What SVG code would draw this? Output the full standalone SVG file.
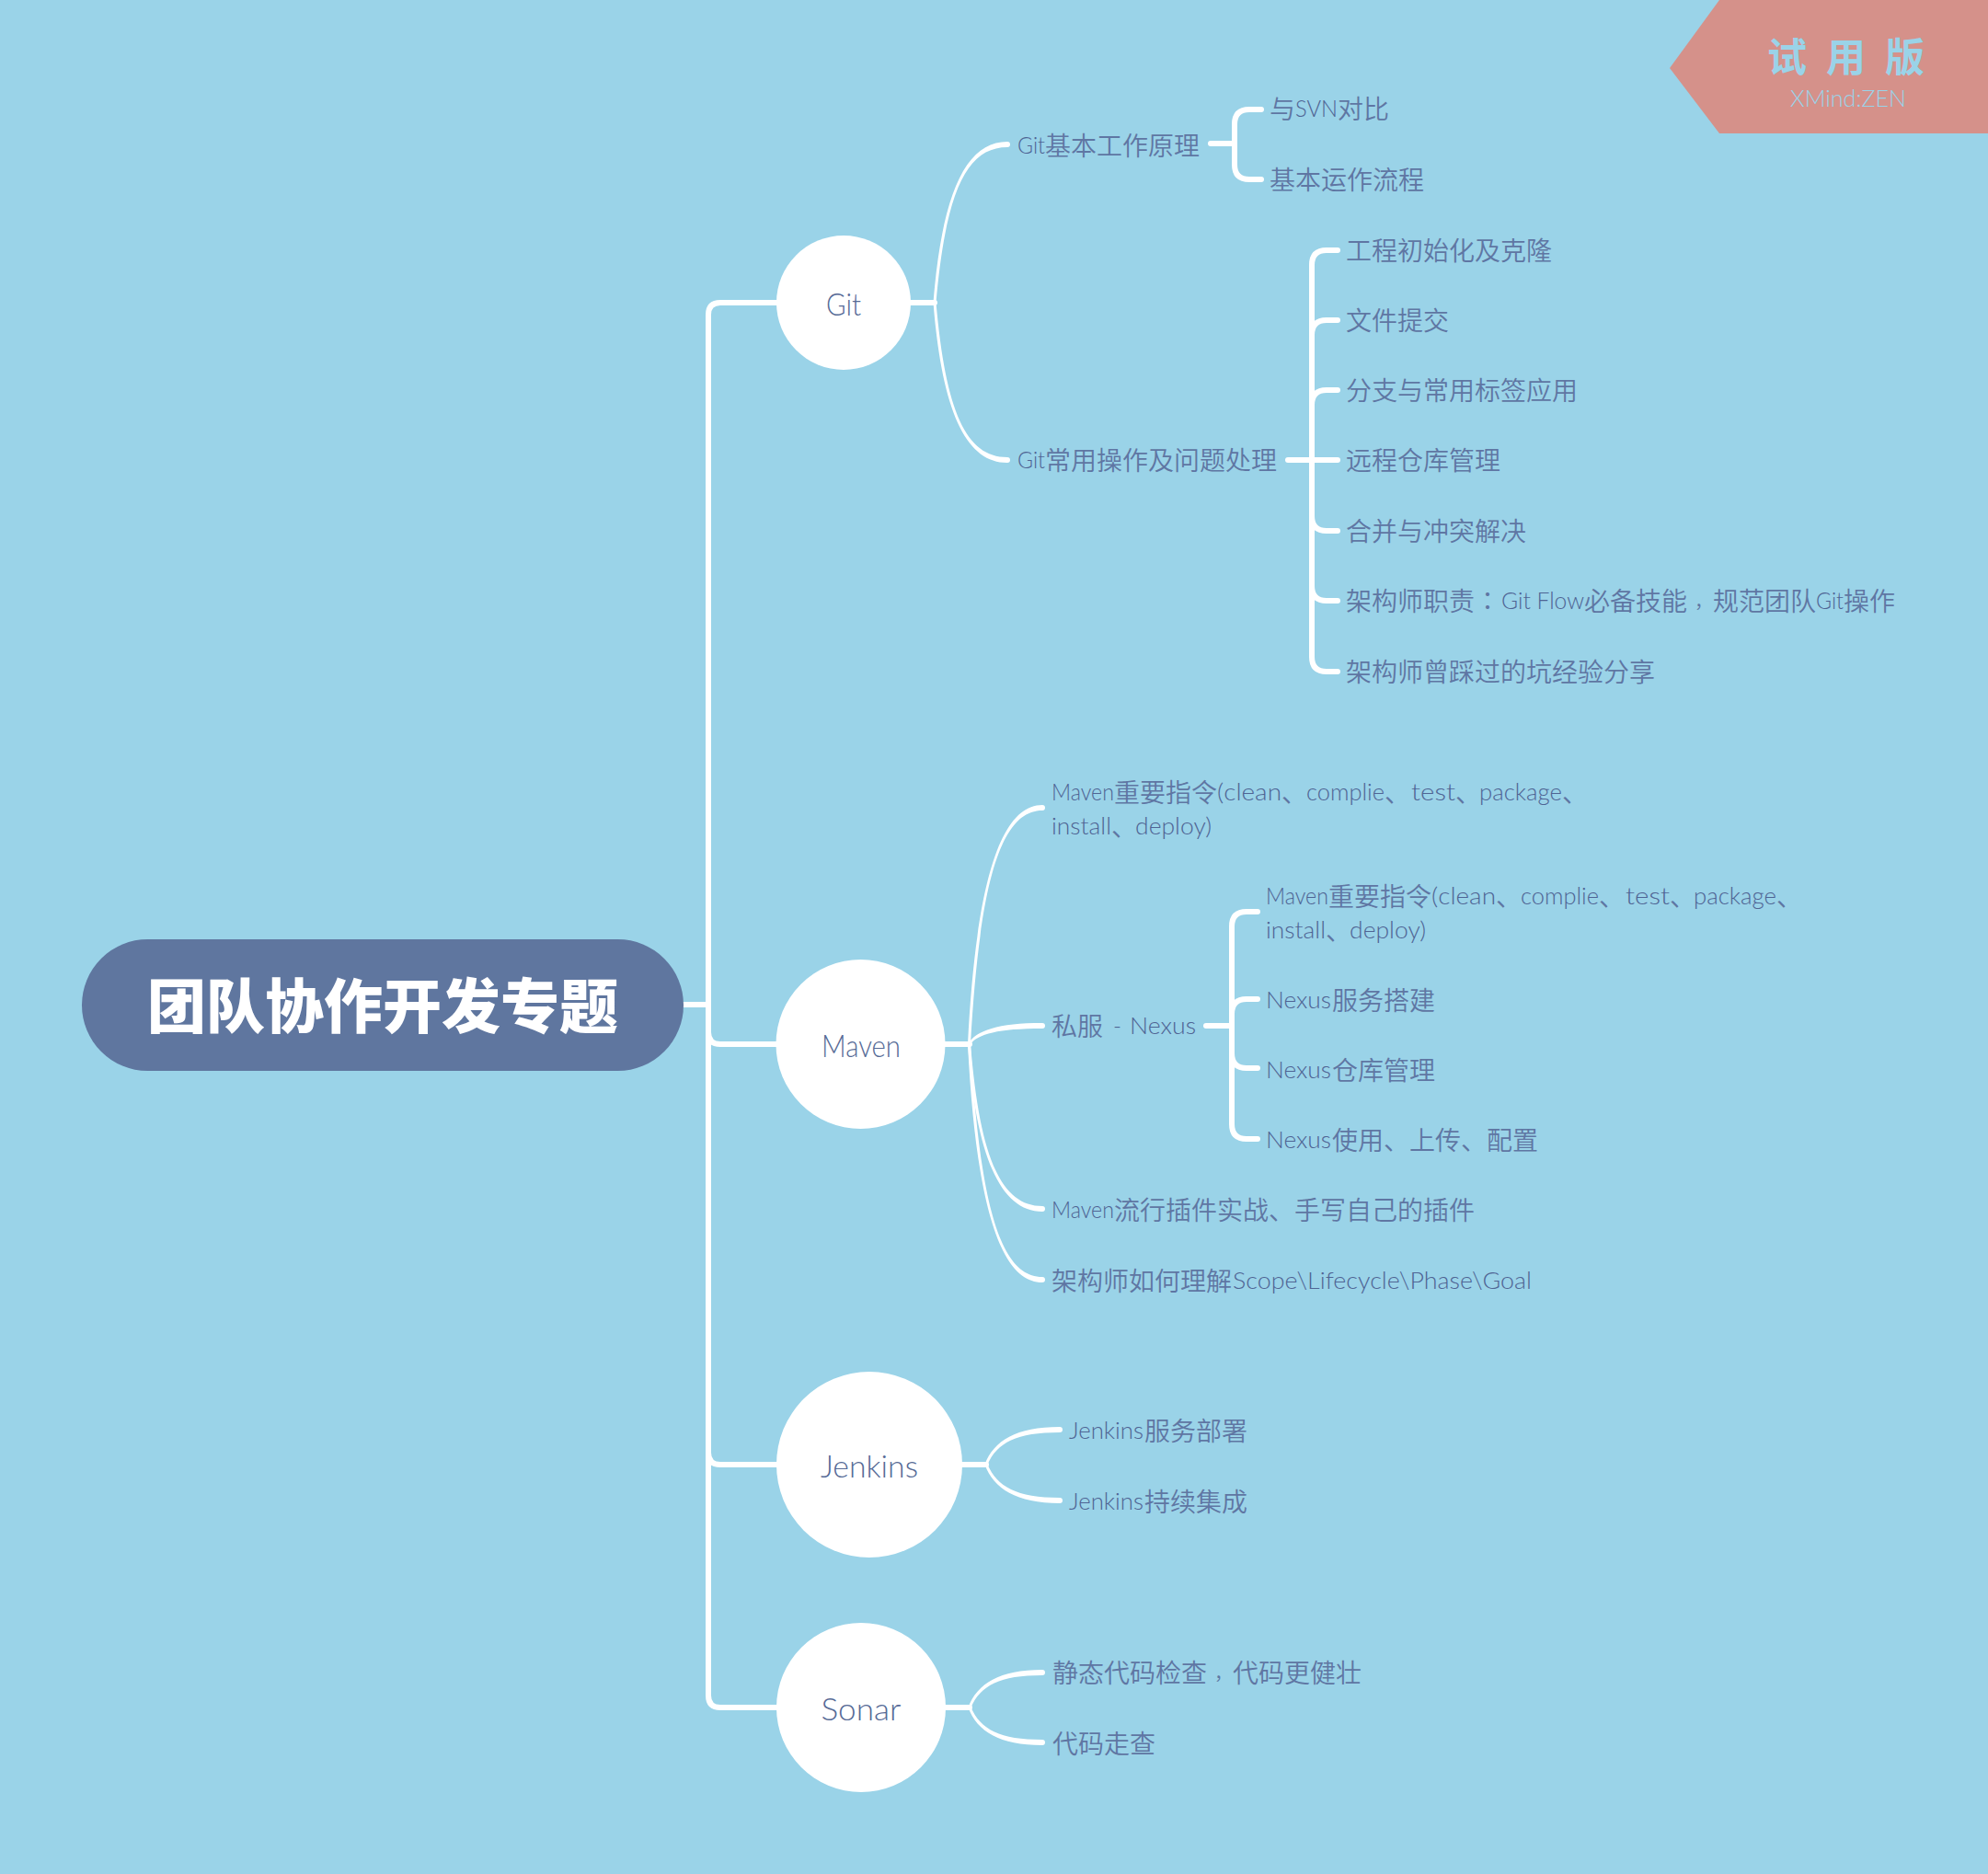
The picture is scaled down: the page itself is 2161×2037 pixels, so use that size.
<svg xmlns="http://www.w3.org/2000/svg" width="2161" height="2037" viewBox="0 0 2161 2037">
<style>
.ln{fill:none;stroke:#fff;stroke-width:6;stroke-linecap:round}
.tp{fill:#fff;stroke:none}
.l{font-family:"Noto Sans CJK SC","Liberation Sans",sans-serif;font-weight:350;font-size:28px;fill:#5F76A3;dominant-baseline:central}
.h{font-family:"Lato","Open Sans",sans-serif;font-weight:300;font-size:25px;fill:#4F6494}
.p{font-family:"Noto Sans CJK TC","Noto Sans CJK SC",sans-serif}
.c{font-size:20px}
.n{font-family:"Lato","Open Sans",sans-serif;font-weight:300;font-size:33px;fill:#566A96;dominant-baseline:central;text-anchor:middle}
</style>
<rect width="2161" height="2037" fill="#9AD3E8"/>
<g id="connectors">
<path class="ln" d="M743,1092H770"/>
<path class="ln" d="M844,329H783Q770,329 770,342V1843Q770,1856 783,1856H844"/>
<path class="ln" d="M770,1122Q770,1135 783,1135H844"/>
<path class="ln" d="M770,1579Q770,1592 783,1592H844"/>
<path class="ln" d="M990,329H1016"/>
<path class="tp" d="M1014.500,329C1024,210 1050,154 1095,154A3,3 0 0 1 1095,160C1050,160 1028,210 1017.500,329Z"/>
<path class="tp" d="M1014.500,329C1024,447 1050,503 1095,503A3,3 0 0 0 1095,497C1050,497 1028,447 1017.500,329Z"/>
<path class="ln" d="M1316,156H1342"/>
<path class="ln" d="M1371,119H1358Q1342,119 1342,135V179Q1342,195 1358,195H1371"/>
<path class="ln" d="M1400,500H1454"/>
<path class="ln" d="M1454,272H1442Q1426,272 1426,288V714Q1426,730 1442,730H1454"/>
<path class="ln" d="M1426,364Q1426,348 1442,348H1454"/>
<path class="ln" d="M1426,440Q1426,424 1442,424H1454"/>
<path class="ln" d="M1426,561Q1426,577 1442,577H1454"/>
<path class="ln" d="M1426,637Q1426,653 1442,653H1454"/>
<path class="ln" d="M1027,1135H1054"/>
<path class="tp" d="M1052,1135C1061,958 1088,875 1133,875A3,3 0 0 1 1133,881C1088,881 1065,958 1055,1135Z"/>
<path class="tp" d="M1052,1135C1061,1120 1085,1112 1133,1112A3,3 0 0 1 1133,1118C1085,1118 1063,1124 1055,1135Z"/>
<path class="tp" d="M1052,1135C1061,1258 1088,1317 1133,1317A3,3 0 0 0 1133,1311C1088,1311 1065,1258 1055,1135Z"/>
<path class="tp" d="M1052,1135C1061,1312 1088,1394 1133,1394A3,3 0 0 0 1133,1388C1088,1388 1065,1312 1055,1135Z"/>
<path class="ln" d="M1311,1115H1339"/>
<path class="ln" d="M1367,991H1355Q1339,991 1339,1007V1222Q1339,1238 1355,1238H1367"/>
<path class="ln" d="M1339,1102Q1339,1086 1355,1086H1367"/>
<path class="ln" d="M1339,1145Q1339,1161 1355,1161H1367"/>
<path class="ln" d="M1046,1592H1072"/>
<path class="tp" d="M1070.500,1592C1080,1566 1105,1551 1152,1551A3,3 0 0 1 1152,1557C1105,1557 1084,1568 1073.500,1592Z"/>
<path class="tp" d="M1070.500,1592C1080,1618 1105,1634 1152,1634A3,3 0 0 0 1152,1628C1105,1628 1084,1616 1073.500,1592Z"/>
<path class="ln" d="M1028,1856H1054"/>
<path class="tp" d="M1052.500,1856C1062,1830 1087,1815 1133,1815A3,3 0 0 1 1133,1821C1087,1821 1066,1832 1055.500,1856Z"/>
<path class="tp" d="M1052.500,1856C1062,1882 1087,1897 1133,1897A3,3 0 0 0 1133,1891C1087,1891 1066,1880 1055.500,1856Z"/>
</g>
<g id="root">
<rect x="89" y="1021" width="654" height="143" rx="71.500" fill="#5F769F"/>
<text x="416" y="1089" text-anchor="middle" dominant-baseline="central" style="font-family:'Noto Sans CJK SC',sans-serif;font-weight:900;font-size:64px;fill:#fff">团队协作开发专题</text>
</g>
<g id="git"><circle cx="917" cy="329" r="73" fill="#fff"/><text class="n" x="917" y="330" textLength="38" lengthAdjust="spacingAndGlyphs">Git</text></g>
<g id="maven"><circle cx="935.500" cy="1135" r="92" fill="#fff"/><text class="n" x="936" y="1136" textLength="86" lengthAdjust="spacingAndGlyphs">Maven</text></g>
<g id="jenkins"><circle cx="945" cy="1592" r="101" fill="#fff"/><text class="n" x="945" y="1593" textLength="106" lengthAdjust="spacingAndGlyphs">Jenkins</text></g>
<g id="sonar"><circle cx="936" cy="1856" r="92" fill="#fff"/><text class="n" x="936" y="1857" textLength="87" lengthAdjust="spacingAndGlyphs">Sonar</text></g>
<g id="git-basic"><text class="l" y="157"><tspan class="h" x="1106" textLength="30" lengthAdjust="spacingAndGlyphs">Git</tspan><tspan x="1136">基本工作原理</tspan></text></g>
<g id="svn"><text class="l" y="117"><tspan x="1380">与</tspan><tspan class="h" x="1408" textLength="46" lengthAdjust="spacingAndGlyphs">SVN</tspan><tspan x="1454">对比</tspan></text></g>
<g id="flow"><text class="l" y="194" x="1380">基本运作流程</text></g>
<g id="git-ops"><text class="l" y="499"><tspan class="h" x="1106" textLength="30" lengthAdjust="spacingAndGlyphs">Git</tspan><tspan x="1136">常用操作及问题处理</tspan></text></g>
<g id="g1"><text class="l" x="1463" y="270.500">工程初始化及克隆</text></g>
<g id="g2"><text class="l" x="1463" y="347">文件提交</text></g>
<g id="g3"><text class="l" x="1463" y="423">分支与常用标签应用</text></g>
<g id="g4"><text class="l" x="1463" y="499">远程仓库管理</text></g>
<g id="g5"><text class="l" x="1463" y="576">合并与冲突解决</text></g>
<g id="g6"><text class="l" y="652"><tspan x="1463">架构师职责</tspan><tspan class="p" x="1603">：</tspan><tspan class="h" x="1632" textLength="90" lengthAdjust="spacingAndGlyphs">Git Flow</tspan><tspan x="1722">必备技能</tspan><tspan class="c" x="1842">，</tspan><tspan x="1862">规范团队</tspan><tspan class="h" x="1974" textLength="30" lengthAdjust="spacingAndGlyphs">Git</tspan><tspan x="2004">操作</tspan></text></g>
<g id="g7"><text class="l" x="1463" y="729">架构师曾踩过的坑经验分享</text></g>
<g id="m1"><text class="l" y="860"><tspan class="h" x="1143" textLength="68" lengthAdjust="spacingAndGlyphs">Maven</tspan><tspan x="1211">重要指令</tspan><tspan class="h" x="1323" textLength="70" lengthAdjust="spacingAndGlyphs">(clean</tspan><tspan x="1393">、</tspan><tspan class="h" x="1420" textLength="85" lengthAdjust="spacingAndGlyphs">complie</tspan><tspan x="1505">、</tspan><tspan class="h" x="1534" textLength="48" lengthAdjust="spacingAndGlyphs">test</tspan><tspan x="1582">、</tspan><tspan class="h" x="1608" textLength="90" lengthAdjust="spacingAndGlyphs">package</tspan><tspan x="1698">、</tspan></text><text class="l" y="897"><tspan class="h" x="1143" textLength="65" lengthAdjust="spacingAndGlyphs">install</tspan><tspan x="1208">、</tspan><tspan class="h" x="1234" textLength="83" lengthAdjust="spacingAndGlyphs">deploy)</tspan></text></g>
<g id="m2"><text class="l" y="1114"><tspan x="1143">私服</tspan><tspan class="h" x="1210" textLength="9" lengthAdjust="spacingAndGlyphs">-</tspan><tspan class="h" x="1228" textLength="72" lengthAdjust="spacingAndGlyphs">Nexus</tspan></text></g>
<g id="n1"><text class="l" y="973"><tspan class="h" x="1376" textLength="68" lengthAdjust="spacingAndGlyphs">Maven</tspan><tspan x="1444">重要指令</tspan><tspan class="h" x="1556" textLength="70" lengthAdjust="spacingAndGlyphs">(clean</tspan><tspan x="1626">、</tspan><tspan class="h" x="1653" textLength="85" lengthAdjust="spacingAndGlyphs">complie</tspan><tspan x="1738">、</tspan><tspan class="h" x="1767" textLength="48" lengthAdjust="spacingAndGlyphs">test</tspan><tspan x="1815">、</tspan><tspan class="h" x="1841" textLength="90" lengthAdjust="spacingAndGlyphs">package</tspan><tspan x="1931">、</tspan></text><text class="l" y="1010"><tspan class="h" x="1376" textLength="65" lengthAdjust="spacingAndGlyphs">install</tspan><tspan x="1441">、</tspan><tspan class="h" x="1467" textLength="83" lengthAdjust="spacingAndGlyphs">deploy)</tspan></text></g>
<g id="n2"><text class="l" y="1086"><tspan class="h" x="1376" textLength="71" lengthAdjust="spacingAndGlyphs">Nexus</tspan><tspan x="1448">服务搭建</tspan></text></g>
<g id="n3"><text class="l" y="1162"><tspan class="h" x="1376" textLength="71" lengthAdjust="spacingAndGlyphs">Nexus</tspan><tspan x="1448">仓库管理</tspan></text></g>
<g id="n4"><text class="l" y="1238"><tspan class="h" x="1376" textLength="71" lengthAdjust="spacingAndGlyphs">Nexus</tspan><tspan x="1448">使用、上传、配置</tspan></text></g>
<g id="m3"><text class="l" y="1314"><tspan class="h" x="1143" textLength="68" lengthAdjust="spacingAndGlyphs">Maven</tspan><tspan x="1211">流行插件实战、手写自己的插件</tspan></text></g>
<g id="m4"><text class="l" y="1391"><tspan x="1143">架构师如何理解</tspan><tspan class="h" x="1340" textLength="325" lengthAdjust="spacingAndGlyphs">Scope\Lifecycle\Phase\Goal</tspan></text></g>
<g id="j1"><text class="l" y="1554"><tspan class="h" x="1162" textLength="81" lengthAdjust="spacingAndGlyphs">Jenkins</tspan><tspan x="1244">服务部署</tspan></text></g>
<g id="j2"><text class="l" y="1631"><tspan class="h" x="1162" textLength="81" lengthAdjust="spacingAndGlyphs">Jenkins</tspan><tspan x="1244">持续集成</tspan></text></g>
<g id="s1"><text class="l" y="1817"><tspan x="1144">静态代码检查</tspan><tspan class="c" x="1320">，</tspan><tspan x="1340">代码更健壮</tspan></text></g>
<g id="s2"><text class="l" x="1144" y="1894">代码走查</text></g>
<g id="trial">
<polygon points="1869,0 2161,0 2161,145 1869,145 1815,74" fill="#D5918A"/>
<text y="59" dominant-baseline="central" style="font-family:'Noto Sans CJK SC',sans-serif;font-weight:700;font-size:43px;fill:#9AD3E8"><tspan x="1921">试</tspan><tspan x="1985">用</tspan><tspan x="2049">版</tspan></text>
<text x="2009" y="106" text-anchor="middle" dominant-baseline="central" textLength="126" lengthAdjust="spacingAndGlyphs" style="font-family:'Lato',sans-serif;font-weight:300;font-size:25px;fill:#9AD3E8">XMind:ZEN</text>
</g>
</svg>
